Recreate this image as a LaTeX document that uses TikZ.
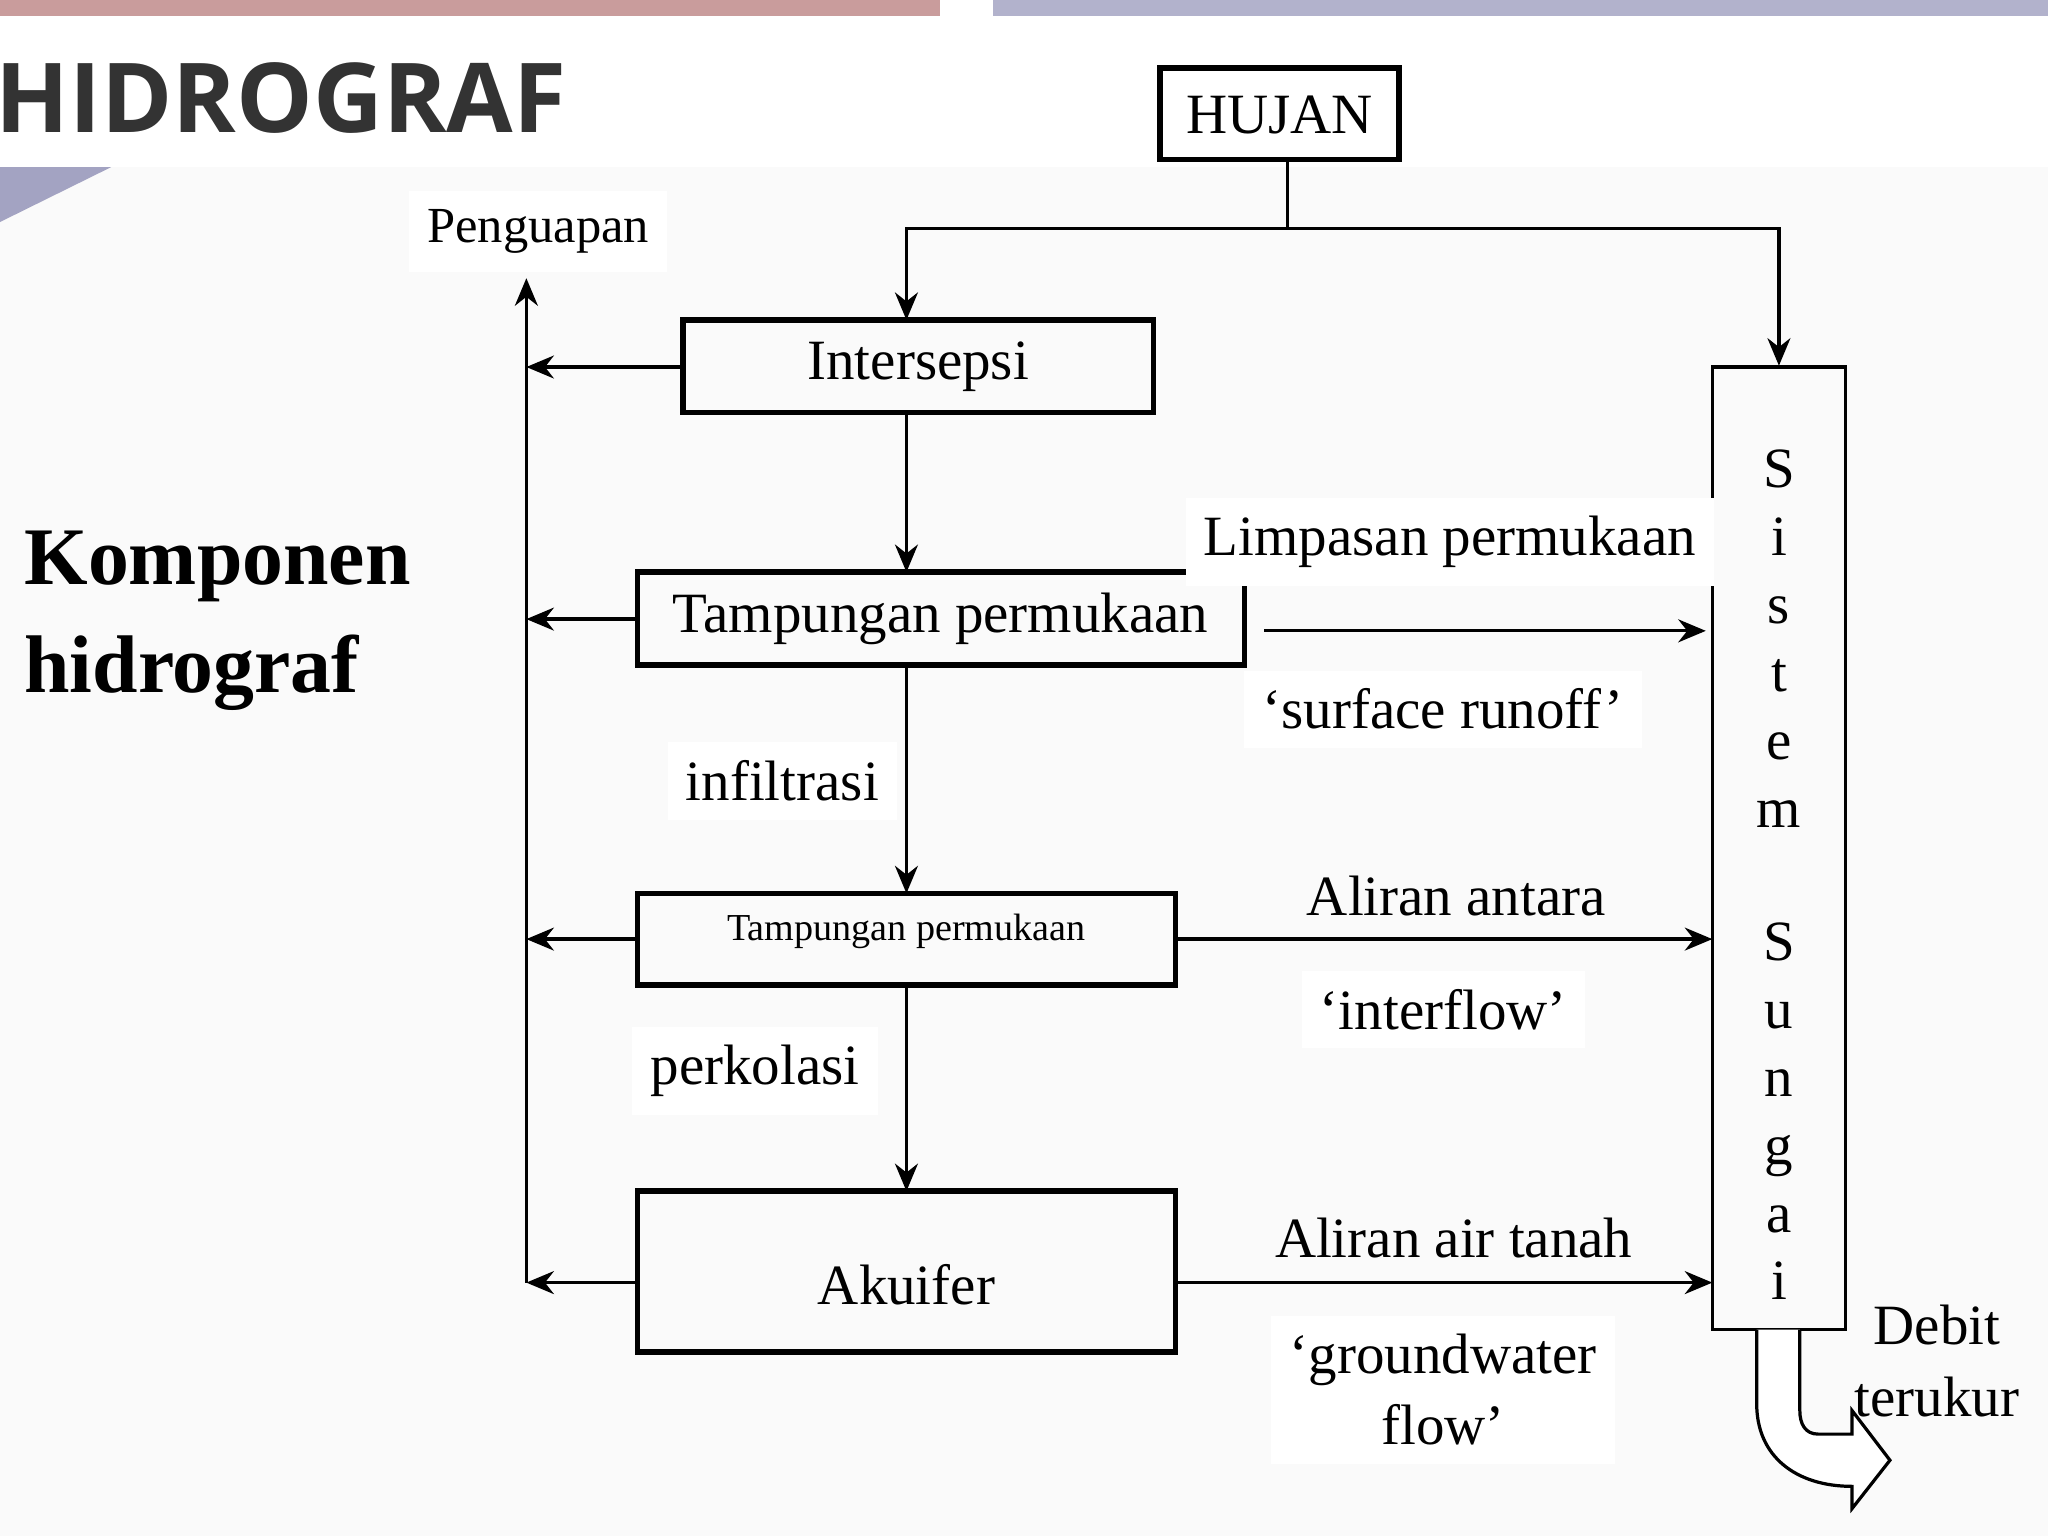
\documentclass[tikz,border=0pt]{standalone}
\usepackage{fontspec}
\setmainfont{Liberation Serif}
\newfontfamily\titlefont{Open Sans}
\usetikzlibrary{arrows.meta}
\begin{document}
\begin{tikzpicture}[x=0.01cm,y=-0.01cm,
  lab/.style={fill=white,inner sep=4pt,font=\fontsize{12.4}{15}\selectfont},
  tx/.style={font=\fontsize{12.4}{15}\selectfont},
  ln/.style={line width=0.7pt},
  ar/.style={ln,-{Stealth[length=6pt,width=5pt]}}]
\useasboundingbox (0,0) rectangle (1568,1176);
\fill[white] (0,0) rectangle (1568,1176);
\fill[gray!4] (0,128) rectangle (1568,1176);
\fill[red!30!gray!60] (0,0) rectangle (720,12);
\fill[blue!20!gray!50] (760,0) rectangle (1568,12);
\fill[blue!20!gray!60] (0,128) -- (85,128) -- (0,170) -- cycle;
\node[anchor=west,inner sep=0pt,font=\titlefont\bfseries\fontsize{21}{24}\selectfont,text=black!80] (title) at (-4,75) {HIDROGRAF};
\node[anchor=north west,align=left,inner sep=0pt,font=\bfseries\fontsize{17.8}{23.5}\selectfont] (komp) at (18,406) {Komponen\\hidrograf};

\draw[line width=1.2pt] (888,52) rectangle (1071,122);
\node[tx] (hujan) at (979.5,88) {HUJAN};
\draw[line width=1.2pt] (523,245) rectangle (883,316);
\node[tx] (inter) at (703,281) {Intersepsi};
\draw[line width=1.2pt] (488,438) rectangle (953,509);
\node[tx] (tamp1) at (720,474) {Tampungan permukaan};
\draw[line width=1.2pt] (488,684) rectangle (900,754);
\node[font=\fontsize{8.3}{10}\selectfont] (tamp2) at (694,713) {Tampungan permukaan};
\draw[line width=1.2pt] (488,912) rectangle (900,1035);
\node[tx] (akui) at (694,984) {Akuifer};
\draw[ln] (1311,281) rectangle (1413,1018);
\node[align=center,font=\fontsize{12.4}{14.8}\selectfont] (sis) at (1362,670) {S\\i\\s\\t\\e\\m\\[14pt]S\\u\\n\\g\\a\\i};

\coordinate (h1) at (986,122); \coordinate (h2) at (986,175);
\coordinate (l) at (694,175); \coordinate (r) at (1362,175);
\draw[ln] (h1)--(h2);
\draw[ar] (h2)--(l)--(694,245);
\draw[ar] (h2)--(r)--(1362,280);
\draw[ar] (694,316)--(694,438);
\draw[ar] (694,509)--(694,684);
\draw[ar] (694,754)--(694,912);
\draw[ar] (403,982)--(403,213);
\draw[ar] (523,281)--(403,281);
\draw[ar] (488,474)--(403,474);
\draw[ar] (488,719)--(403,719);
\draw[ar] (488,982)--(403,982);
\draw[ar] (968,483)--(1306,483);
\draw[ar] (900,719)--(1311,719);
\draw[ar] (900,982)--(1311,982);

\node[lab,font=\fontsize{11}{14}\selectfont] (peng) at (412,177) {Penguapan};
\node[lab] (limp) at (1110,415) {Limpasan permukaan};
\node[lab] (surf) at (1105,543) {‘surface runoff’};
\node[lab] (inf) at (599,598) {infiltrasi};
\node[tx] (alan) at (1115,686) {Aliran antara};
\node[lab] (intf) at (1105,773) {‘interflow’};
\node[lab] (perk) at (578,820) {perkolasi};
\node[tx] (alat) at (1113,948) {Aliran air tanah};
\node[lab,align=center,font=\fontsize{12.4}{15.5}\selectfont] (gw) at (1105,1064) {‘groundwater\\flow’};
\node[align=center,font=\fontsize{12.4}{15.5}\selectfont] (deb) at (1483,1042) {Debit\\terukur};

\draw[ln,fill=white] (1345,1018)--(1345,1075) .. controls (1345,1115) and (1375,1138) .. (1418,1138) -- (1418,1155) -- (1447,1118) -- (1418,1080) -- (1418,1098) -- (1392,1098) .. controls (1382,1098) and (1378,1090) .. (1378,1080) -- (1378,1018);
\end{tikzpicture}
\end{document}
